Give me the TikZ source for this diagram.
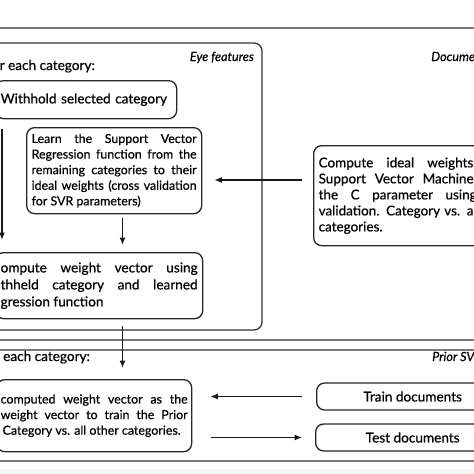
\documentclass[tikz,border=0pt]{standalone}
\usepackage{fontspec}
\setmainfont{Lato}[FakeBold=0.6]
\usepackage{tikz}
\usetikzlibrary{positioning, calc, arrows.meta}

\newcommand\loosepar{\tolerance10000\relax\hbadness10000\relax}

\tikzset{
  box/.style={draw=black!85, line width=1.3pt, rounded corners=8pt, inner ysep=0pt},
  bigtext/.style={font=\fontsize{13.6}{17}\selectfont\loosepar},
  smalltext/.style={font=\fontsize{12.4}{15.6}\selectfont\loosepar},
  tag/.style={font=\fontsize{12.6}{15}\selectfont\itshape, inner sep=0pt},
  frame/.style={draw=black!80, line width=1.3pt, rounded corners=8pt},
  flow/.style={draw=black!90, line width=1.3pt, -{Latex[length=7.5pt,width=6pt]}}
}

\begin{document}
\begin{tikzpicture}[x=1pt, y=-1pt]
    \useasboundingbox (0,0) rectangle (474,474);
    \clip (0,0) rectangle (474,474);
    \fill[gray!7] (0,469) rectangle (474,474);

    % Outer frames
    \draw[frame] (-20,28) rectangle (490,340);
    \draw[frame] (-20,43) rectangle (262,330);
    \draw[frame] (-20,350) rectangle (490,461);

    % Frame titles
    \node[tag, anchor=base east] (eyetag) at (254,61) {Eye features};
    \node[tag, anchor=base west] (doctag) at (431,61) {Docume};
    \node[bigtext, inner sep=0pt, anchor=base west] (loopeye) at (-0.5,70) {r each category:};
    \node[tag, anchor=base west] (priortag) at (432,361) {Prior SV};
    \node[bigtext, inner sep=0pt, anchor=base west] (loopprior) at (3,361) {each category:};

    % Eye features steps
    \node[box, bigtext, anchor=north west, text width=171pt, inner xsep=5pt,
          minimum height=38pt, align=left] (withhold) at (-5,80)
          {Withhold selected category};
    \node[box, smalltext, anchor=north west, text width=165pt, inner xsep=5pt,
          minimum height=86pt, align=justify] (learn) at (26,127)
          {Learn the Support Vector\linebreak Regression function from the\linebreak
           remaining categories to their\linebreak ideal weights (cross validation\linebreak
           for SVR parameters)};
    \node[box, bigtext, anchor=north west, text width=197pt, inner xsep=5pt,
          minimum height=66pt, align=justify] (weightvec) at (-5,252)
          {ompute weight vector using\linebreak thheld category and learned\linebreak
           gression function};

    % Documents step
    \node[box, font=\fontsize{13.5}{16}\selectfont\loosepar,
          anchor=north west, text width=158pt, inner xsep=5pt,
          minimum height=100pt, align=justify] (ideal) at (313,145)
          {Compute ideal weights:\linebreak Support Vector Machine,\linebreak
           the C parameter using\linebreak validation. Category vs. al\linebreak
           categories.};

    % Prior SVM steps
    \node[box, smalltext, anchor=north west, text width=187pt, inner xsep=4pt,
          minimum height=72pt, align=justify] (prior) at (-4,379)
          {computed weight vector as the\linebreak weight vector to train the Prior\linebreak
           \hspace*{2pt}Category vs. all other categories.};
    \node[box, bigtext, anchor=west, minimum width=192pt, minimum height=27pt] (train) at (316,396.5) {Train documents};
    \node[box, bigtext, anchor=west, minimum width=194pt, minimum height=27pt] (test) at (315,437.5) {Test documents};

    % Arrows
    \coordinate (leftx) at (2,0);
    \coordinate (midx) at (122.5,0);
    \coordinate (idealy) at (0,180);
    \draw[flow, line width=1.8pt, shorten <=10pt, shorten >=12pt] (withhold.south -| leftx) -- (weightvec.north -| leftx);
    \draw[flow, shorten <=4pt, shorten >=7pt] (learn.south -| midx) -- (weightvec.north -| midx);
    \draw[flow, shorten <=11pt, shorten >=12pt] (idealy -| ideal.west) -- (idealy -| learn.east);
    \draw[flow, shorten <=7pt, shorten >=11pt] (weightvec.south -| midx) -- (prior.north -| midx);
    \draw[flow, shorten <=14pt, shorten >=18pt] (train.west) -- (train.west -| prior.east);
    \draw[flow, shorten <=19pt, shorten >=13pt] (test.west -| prior.east) -- (test.west);
\end{tikzpicture}
\end{document}
